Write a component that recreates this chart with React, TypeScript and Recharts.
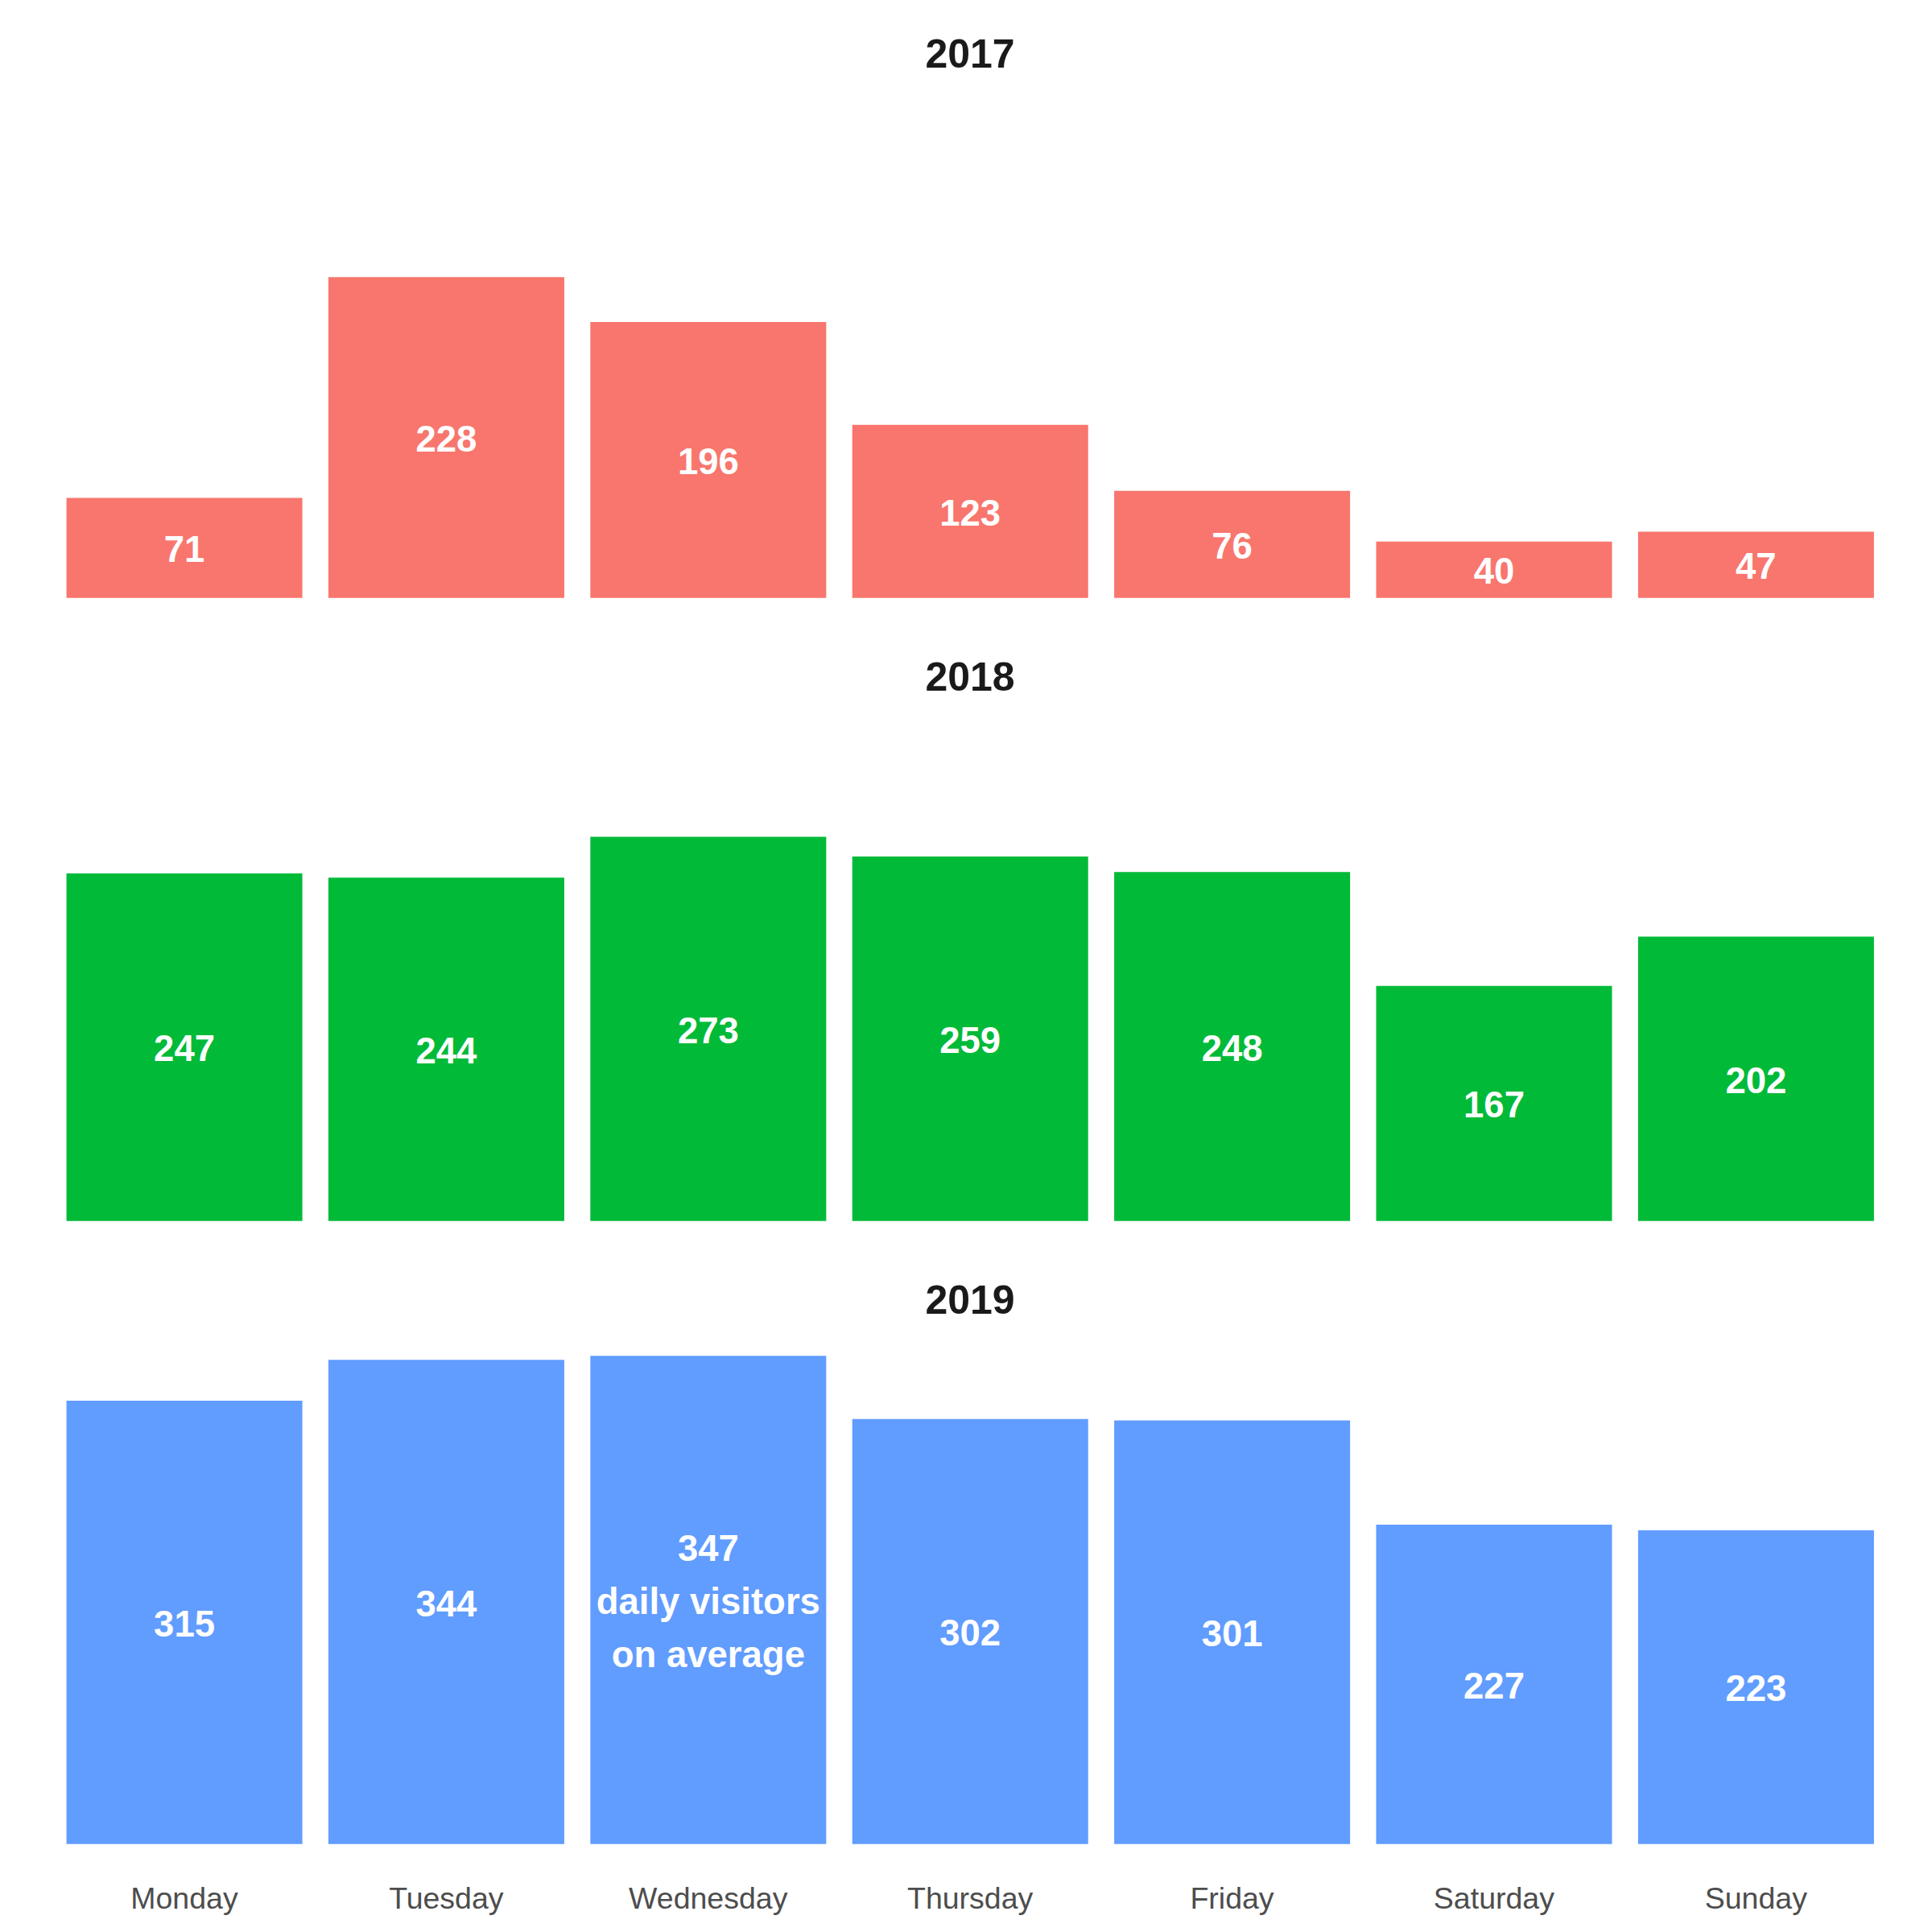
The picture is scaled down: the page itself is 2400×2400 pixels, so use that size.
import React from 'react';
import { BarChart, Bar, XAxis, YAxis, LabelList } from 'recharts';

const days = ['Monday', 'Tuesday', 'Wednesday', 'Thursday', 'Friday', 'Saturday', 'Sunday'];
const years = [2017, 2018, 2019];
const visitors2017 = [71, 228, 196, 123, 76, 40, 47];
const visitors2018 = [247, 244, 273, 259, 248, 167, 202];
const visitors2019 = [315, 344, 347, 302, 301, 227, 223];
const yearColors = ['#F8766D', '#00BA38', '#619CFF'];

// the one bar that gets an extra note under its number
const highlightYear = 2019;
const highlightDay = 'Wednesday';
const highlightNote = ['daily visitors', 'on average'];

const seriesByYear = [visitors2017, visitors2018, visitors2019];
const yMax = Math.max(...seriesByYear.flat()) * 1.05;

const FONT = '"Liberation Sans", Arial, sans-serif';
const PANEL_H = 774;
const LABEL_FS = 45.5;
const LINE_GAP = 66;

const makeLabel = (year: number) => (props: any) => {
  const vb = props.viewBox ?? props;
  const { x, y, width, height } = vb;
  const cx = x + width / 2;
  const cy = y + height / 2 + 1.5;
  const day = days[props.index];
  const lines = [String(props.value)];
  if (year === highlightYear && day === highlightDay) lines.push(...highlightNote);
  const first = cy + 0.355 * LABEL_FS - ((lines.length - 1) / 2) * LINE_GAP;
  return (
    <text
      x={cx}
      textAnchor="middle"
      fill="#ffffff"
      fontFamily={FONT}
      fontWeight="bold"
      fontSize={LABEL_FS}
    >
      {lines.map((l, i) => (
        <tspan key={i} x={cx} y={first + i * LINE_GAP}>
          {l}
        </tspan>
      ))}
    </text>
  );
};

const DayTick = (props: any) => {
  const { x, y, payload } = props;
  return (
    <text x={x} y={y + 80} textAnchor="middle" fill="#4D4D4D" fontFamily={FONT} fontSize={37.5}>
      {payload.value}
    </text>
  );
};

const Panel = ({ idx }: { idx: number }) => {
  const year = years[idx];
  const data = days.map((d, i) => ({ day: d, value: seriesByYear[idx][i] }));
  const last = idx === years.length - 1;
  const height = last ? 2400 - PANEL_H * idx : PANEL_H;
  const xAxisH = last ? 60 : 0;
  return (
    <BarChart
      width={2400}
      height={height}
      data={data}
      margin={{ top: 105.8, right: 56, left: 66.3, bottom: height - 742.7 - xAxisH }}
      barCategoryGap="5%"
    >
      <XAxis
        dataKey="day"
        hide={!last}
        height={xAxisH}
        axisLine={false}
        tickLine={false}
        tickSize={0}
        tickMargin={0}
        interval={0}
        tick={<DayTick />}
      />
      <YAxis hide domain={[0, yMax]} />
      <Bar dataKey="value" fill={yearColors[idx]} isAnimationActive={false}>
        <LabelList dataKey="value" content={makeLabel(year)} />
      </Bar>
    </BarChart>
  );
};

export default function App() {
  return (
    <div style={{ position: 'absolute', left: 0, top: 0, width: 2400, height: 2400, background: '#fff' }}>
      {years.map((y, i) => (
        <div key={y} style={{ position: 'absolute', left: 0, top: i * PANEL_H }}>
          <Panel idx={i} />
        </div>
      ))}
      <svg
        width={2400}
        height={2400}
        style={{ position: 'absolute', left: 0, top: 0, pointerEvents: 'none' }}
      >
        {years.map((y, i) => (
          <text
            key={y}
            x={1205}
            y={84 + i * PANEL_H}
            textAnchor="middle"
            fill="#1A1A1A"
            fontFamily={FONT}
            fontWeight="bold"
            fontSize={50}
          >
            {y}
          </text>
        ))}
      </svg>
    </div>
  );
}
